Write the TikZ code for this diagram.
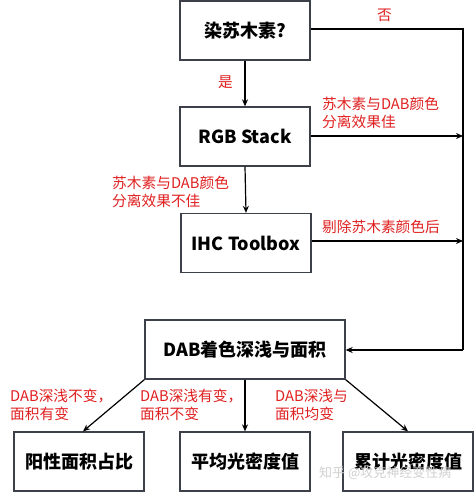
\documentclass[tikz,border=0pt]{standalone}
\usepackage{fontspec}
\setmainfont{Noto Sans CJK SC}
\usetikzlibrary{arrows.meta}
\definecolor{boxline}{HTML}{3C4048}
\definecolor{lbl}{HTML}{E02020}
\begin{document}
\begin{tikzpicture}[x=1pt,y=-1pt,
  box/.style={draw=boxline,line width=1.3pt,fill=white,minimum width=130pt,minimum height=59pt,inner sep=0pt,font=\fontsize{18}{20}\selectfont\bfseries},
  lab/.style={text=lbl,font=\fontsize{14.7}{18.5}\selectfont,align=left,inner sep=0pt},
  conn/.style={draw=black,line width=1.2pt,-{Stealth[length=7pt,width=6pt]}},
  line/.style={draw=black,line width=1.2pt}]
\clip (0,0) rectangle (474,492);
\fill[white] (0,0) rectangle (474,492);
\node[box] (b1) at (245,30.5) {染苏木素?};
\node[box] (b2) at (245,136.5) {RGB Stack};
\node[box] (b3) at (246,243) {IHC Toolbox};
\node[box,minimum width=200pt] (b4) at (245,349.5) {DAB着色深浅与面积};
\node[box] (b5) at (79,461.5) {阳性面积占比};
\node[box] (b6) at (245,461.5) {平均光密度值};
\node[box] (b7) at (408,461.5) {累计光密度值};
\coordinate (r1) at (463,29);
\coordinate (r2) at (463,136);
\coordinate (r3) at (463,241);
\coordinate (r4) at (463,350);
% connectors
\draw[conn] (b1.south) -- (b2.north);
\draw[conn] (b2.south) -- (b3.north);
\draw[line] (b1.east |- r1) -- (r1) -- (r4);
\draw[conn] (r4) -- (b4.east |- r4);
\draw[conn] (b2.east |- r2) -- (r2);
\draw[conn] (b3.east |- r3) -- (r3);
\draw[conn] (b4.south west) -- (b5.north -| 83,0);
\draw[conn] (b4.south) -- (b6.north);
\draw[conn] (b4.south east) -- (b7.north -| 408,0);
% labels
\node[lab,anchor=west] (l0) at (377,15) {否};
\node[lab,anchor=west] (l1) at (218,82) {是};
\node[lab,anchor=west] (l2) at (322,113) {苏木素与DAB颜色\\分离效果佳};
\node[lab,anchor=west] (l3) at (112,192) {苏木素与DAB颜色\\分离效果不佳};
\node[lab,anchor=west] (l4) at (322,227) {剔除苏木素颜色后};
\node[lab,anchor=west] (l5) at (10,405) {DAB深浅不变，\\面积有变};
\node[lab,anchor=west] (l6) at (140,405) {DAB深浅有变，\\面积不变};
\node[lab,anchor=west] (l7) at (275,405) {DAB深浅与\\面积均变};
% watermark
\node[anchor=west,text=black!18,font=\fontsize{13}{15}\selectfont,inner sep=0pt] (wm) at (319,473) {知乎 @攻克神经变性病};
\end{tikzpicture}
\end{document}
